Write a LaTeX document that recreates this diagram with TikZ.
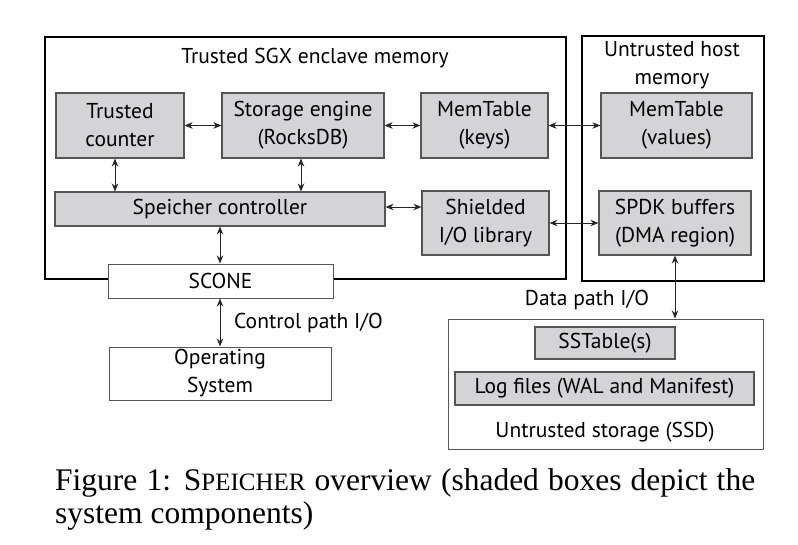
\documentclass[tikz,border=0pt]{standalone}
\usepackage{fontspec}
\setmainfont{Liberation Serif}
\newfontfamily\diafont{PT Sans}
\usetikzlibrary{arrows.meta}
\definecolor{boxgray}{RGB}{212,212,214}
\definecolor{edgegray}{RGB}{85,85,85}
\begin{document}
\begin{tikzpicture}[x=1pt,y=-1pt,
  every node/.style={font=\diafont\fontsize{21.5}{28}\selectfont, inner sep=0pt},
  gbox/.style={draw=edgegray, line width=1.1pt, fill=boxgray, align=center},
  wbox/.style={draw=edgegray, line width=1pt, fill=white, align=center},
  outer/.style={draw=black, line width=1.8pt},
  capt/.style={anchor=base west, font=\rmfamily\fontsize{31.5}{33}\selectfont},
  arr/.style={{Stealth[length=8pt,width=6.5pt]}-{Stealth[length=8pt,width=6.5pt]}, line width=0.9pt, draw=black!85}]
\useasboundingbox (0,0) rectangle (798,544);
% outer containers
\node[outer, minimum width=521, minimum height=242] (encl) at (305.5,158) {};
\node[outer, minimum width=182, minimum height=245] (host) at (673,158.5) {};
\node[wbox, minimum width=315, minimum height=130] (stor) at (605.5,384) {};
% titles
\node (enclt) at (315,58) {Trusted SGX enclave memory};
\node[align=center] (hostt) at (672,65) {Untrusted host\\memory};
\node (stort) at (605,432) {Untrusted storage (SSD)};
% components
\node[gbox, minimum width=128, minimum height=65] (tc) at (120,125.5) {Trusted\\counter};
\node[gbox, minimum width=162, minimum height=65] (se) at (303,125.5) {Storage engine\\(RocksDB)};
\node[gbox, minimum width=127, minimum height=65] (mk) at (484.5,125.5) {MemTable\\(keys)};
\node[gbox, minimum width=151, minimum height=65] (mv) at (676.5,125.5) {MemTable\\(values)};
\node[gbox, minimum width=330, minimum height=34] (sc) at (220,209) {Speicher controller};
\node[gbox, minimum width=127, minimum height=64] (sh) at (485.5,223) {Shielded\\I/O library};
\node[gbox, minimum width=152, minimum height=64] (spdk) at (675,223) {SPDK buffers\\(DMA region)};
\node[wbox, minimum width=225, minimum height=34] (scone) at (220.5,281) {SCONE};
\node[wbox, minimum width=222, minimum height=53] (os) at (220,373.5) {Operating\\System};
\node[gbox, minimum width=140, minimum height=32] (sst) at (605,343) {SSTable(s)};
\node[gbox, minimum width=299, minimum height=33] (log) at (604.5,388.5) {Log files (WAL and Manifest)};
% arrows
\draw[arr] (tc.east) -- (se.west);
\draw[arr] (se.east) -- (mk.west);
\draw[arr] (mk.east) -- (mv.west);
\draw[arr] ([xshift=-5]tc.south) -- ([xshift=-5]tc.south |- sc.north);
\draw[arr] ([xshift=-2]se.south) -- ([xshift=-2]se.south |- sc.north);
\draw[arr] ([yshift=2]sc.east) -- ([yshift=2]sc.east -| sh.west);
\draw[arr] (sh.east) -- (spdk.west);
\draw[arr] (sc.south) -- (sc.south |- scone.north);
\draw[arr] (scone.south -| sc.south) -- (os.north -| sc.south);
\draw[arr] (spdk.south) -- (spdk.south |- stor.north);
\node[anchor=west] (cpl) at (234,323) {Control path I/O};
\node (dpl) at (587,300) {Data path I/O};
% caption
\node[capt] (cap1) at (55,490) {\makebox[700pt][s]{Figure 1: S{\fontsize{25}{33}\selectfont PEICHER} overview (shaded boxes depict the}};
\node[capt] (cap2) at (55,523) {system components)};
\end{tikzpicture}
\end{document}
